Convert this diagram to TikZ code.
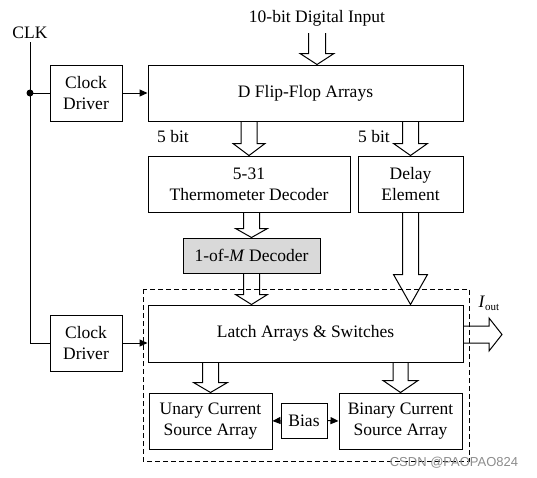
\documentclass[tikz,border=0pt]{standalone}
\usepackage{fontspec}
\setmainfont{Liberation Serif}
\newfontfamily\wmfont{Liberation Sans}
\usetikzlibrary{calc,arrows.meta}
\newcommand{\vblk}[5]{%
  \draw[blk] let \p1=(#1), \p2=(#2) in
    (\x1-#3,\y1) -- (\x1-#3,\y2+#5) -- (\x1-#4,\y2+#5) -- (\x1,\y2)
    -- (\x1+#4,\y2+#5) -- (\x1+#3,\y2+#5) -- (\x1+#3,\y1);}
\begin{document}
\begin{tikzpicture}[x=1pt,y=-1pt,
  every node/.style={font=\fontsize{17.5}{21}\selectfont},
  box/.style={draw,line width=1pt,inner sep=0pt,align=center},
  blk/.style={draw,line width=1pt,line join=miter},
  wire/.style={line width=1pt},
  arr/.style={wire,-{Triangle[length=8pt,width=7pt]}}]
\useasboundingbox (0,0) rectangle (537,477);
% boxes
\node[box,minimum width=72pt,minimum height=56pt] (cd1) at (86,93) {Clock\\Driver};
\node[box,minimum width=315pt,minimum height=56pt] (dff) at (305.5,93) {D Flip-Flop Arrays};
\node[box,minimum width=202pt,minimum height=56pt] (thermo) at (249,184) {5-31\\Thermometer Decoder};
\node[box,minimum width=105pt,minimum height=56pt] (delay) at (410.5,184) {Delay\\Element};
\node[box,fill=black!15,minimum width=137pt,minimum height=35pt] (onem) at (251.5,255.5) {1-of-\textit{M} Decoder};
\node[box,minimum width=315pt,minimum height=57pt] (latch) at (305.5,333.5) {Latch Arrays \& Switches};
\node[box,minimum width=72pt,minimum height=56pt] (cd2) at (86,343) {Clock\\Driver};
\node[box,minimum width=123pt,minimum height=56pt] (unary) at (210.5,421) {Unary Current\\Source Array};
\node[box,minimum width=46pt,minimum height=35pt] (bias) at (304,420.5) {Bias};
\node[box,minimum width=123pt,minimum height=56pt] (binary) at (400.5,421) {Binary Current\\Source Array};
\draw[line width=1pt,dash pattern=on 5pt off 3pt] (143,289) rectangle (469,461);
% labels
\node (clkl) at (30,33) {CLK};
\node (inl) at (317,18) {10-bit Digital Input};
\node (b5l) at (173,137) {5 bit};
\node (b5r) at (374,137) {5 bit};
\node (ioutl) at (489,303) {\textit{I}\raisebox{-3pt}{\fontsize{11}{11}\selectfont out}};
\node[text=black!45] (wm) at (454,463) {\wmfont\fontsize{13}{13}\selectfont CSDN @PAOPAO824};
% clock wires
\coordinate (dot) at (clkl.south |- cd1.west);
\draw[wire] (clkl.south) |- (cd2.west);
\draw[wire] (dot) -- (cd1.west);
\fill (dot) circle (3.5pt);
\draw[arr] (cd1.east) -- (dff.west);
\draw[arr] (cd2.east) -- (latch.west |- cd2.east);
\draw[arr] (bias.west) -- (unary.east);
\draw[arr] (bias.east) -- (binary.west);
% block arrows
\coordinate (in0) at (317,33);
\vblk{in0}{in0 |- dff.north}{8.5pt}{17pt}{11pt}
\vblk{thermo.north |- dff.south}{thermo.north}{8pt}{16pt}{12pt}
\vblk{delay.north |- dff.south}{delay.north}{8pt}{17pt}{12pt}
\vblk{onem.north |- thermo.south}{onem.north}{8pt}{16pt}{9pt}
\vblk{onem.south}{onem.south |- latch.north}{8pt}{16pt}{10pt}
\vblk{delay.south}{delay.south |- latch.north}{8pt}{17pt}{30pt}
\vblk{unary.north |- latch.south}{unary.north}{8pt}{17pt}{10pt}
\vblk{binary.north |- latch.south}{binary.north}{7.5pt}{17.5pt}{12pt}
\coordinate (iout) at (502,334.5);
\draw[blk] let \p1=(latch.east), \p2=(iout) in
  (\x1,\y2+8.5pt) -- (\x2-13pt,\y2+8.5pt) -- (\x2-13pt,\y2+16.5pt) -- (\x2,\y2)
  -- (\x2-13pt,\y2-16.5pt) -- (\x2-13pt,\y2-8.5pt) -- (\x1,\y2-8.5pt);
\end{tikzpicture}
\end{document}
